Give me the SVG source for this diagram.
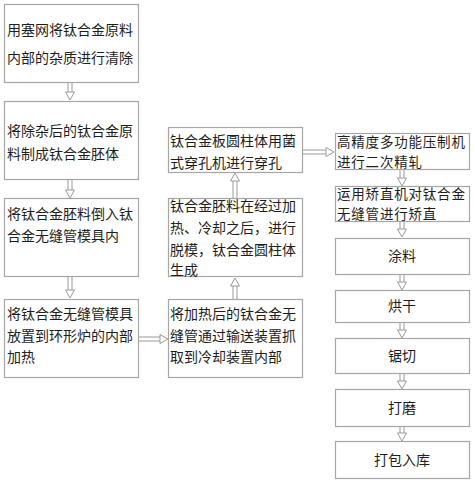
<svg xmlns="http://www.w3.org/2000/svg" width="474" height="481" viewBox="0 0 474 481">
<style>
.box{fill:#fff;stroke:#a6a6a6;stroke-width:1.2}
.t{font-family:"Noto Sans CJK SC","Noto Sans",sans-serif;font-size:14px;fill:#1e1e1e}
.s{font-size:13.5px;letter-spacing:0.8px}
.c{text-anchor:middle}
.sh{fill:none;stroke:#9a9a9a;stroke-width:1}
.hd{fill:#fff;stroke:#9a9a9a;stroke-width:1}
</style>
<rect width="474" height="481" fill="#fff"/>
<g id="connectors">
<path class="sh" d="M68,82V92M72,82V92"/><polygon class="hd" points="65.5,92 74.5,92 70,100"/>
<path class="sh" d="M68,180V190M72,180V190"/><polygon class="hd" points="65.5,190 74.5,190 70,198"/>
<path class="sh" d="M68,277V290M72,277V290"/><polygon class="hd" points="65.5,290 74.5,290 70,298"/>
<path class="sh" d="M138,337H160M138,341H160"/><polygon class="hd" points="160,334.5 160,343.5 168,339"/>
<path class="sh" d="M233,299V286M237,299V286"/><polygon class="hd" points="230.5,286 239.5,286 235,278"/>
<path class="sh" d="M233,198V181M237,198V181"/><polygon class="hd" points="230.5,181 239.5,181 235,173"/>
<path class="sh" d="M303,150H326M303,154H326"/><polygon class="hd" points="326,147.5 326,156.5 334,152"/>
<path class="sh" d="M400,170V178M404,170V178"/><polygon class="hd" points="397.5,178 406.5,178 402,186"/>
<path class="sh" d="M400,222V229M404,222V229"/><polygon class="hd" points="397.5,229 406.5,229 402,237"/>
<path class="sh" d="M400,275V282M404,275V282"/><polygon class="hd" points="397.5,282 406.5,282 402,290"/>
<path class="sh" d="M400,322V330M404,322V330"/><polygon class="hd" points="397.5,330 406.5,330 402,338"/>
<path class="sh" d="M400,373V381M404,373V381"/><polygon class="hd" points="397.5,381 406.5,381 402,389"/>
<path class="sh" d="M400,426V433M404,426V433"/><polygon class="hd" points="397.5,433 406.5,433 402,441"/>
</g>
<g id="b1"><rect class="box" x="4.5" y="4.5" width="134" height="78"/>
<text class="t" x="7" y="35">用塞网将钛合金原料</text><text class="t" x="7" y="63">内部的杂质进行清除</text></g>
<g id="b2"><rect class="box" x="4.5" y="101.5" width="134" height="78"/>
<text class="t" x="7" y="136">将除杂后的钛合金原</text><text class="t" x="7" y="159">料制成钛合金胚体</text></g>
<g id="b3"><rect class="box" x="4.5" y="198.5" width="134" height="78"/>
<text class="t" x="7" y="219">将钛合金胚料倒入钛</text><text class="t" x="7" y="241">合金无缝管模具内</text></g>
<g id="b4"><rect class="box" x="4.5" y="299.5" width="134" height="78"/>
<text class="t" x="7" y="319">将钛合金无缝管模具</text><text class="t" x="7" y="341">放置到环形炉的内部</text><text class="t" x="7" y="362">加热</text></g>
<g id="m1"><rect class="box" x="168.5" y="299.5" width="134" height="78"/>
<text class="t" x="170" y="319">将加热后的钛合金无</text><text class="t" x="170" y="341">缝管通过输送装置抓</text><text class="t" x="170" y="362">取到冷却装置内部</text></g>
<g id="m2"><rect class="box" x="168.5" y="198.5" width="134" height="78"/>
<text class="t" x="170" y="211">钛合金胚料在经过加</text><text class="t" x="170" y="233">热、冷却之后，进行</text><text class="t" x="170" y="255">脱模，钛合金圆柱体</text><text class="t" x="170" y="275">生成</text></g>
<g id="m3"><rect class="box" x="168.5" y="127.5" width="134" height="45"/>
<text class="t" x="170" y="146">钛合金板圆柱体用菌</text><text class="t" x="170" y="168">式穿孔机进行穿孔</text></g>
<g id="r1"><rect class="box" x="335.5" y="133.5" width="134" height="36"/>
<text class="t s" x="337" y="147">高精度多功能压制机</text><text class="t s" x="337" y="167">进行二次精轧</text></g>
<g id="r2"><rect class="box" x="335.5" y="186.5" width="134" height="35"/>
<text class="t s" x="337" y="199">运用矫直机对钛合金</text><text class="t s" x="337" y="219">无缝管进行矫直</text></g>
<g id="r3"><rect class="box" x="335.5" y="238.5" width="134" height="36"/>
<text class="t c" x="402" y="261">涂料</text></g>
<g id="r4"><rect class="box" x="335.5" y="290.5" width="134" height="32"/>
<text class="t c" x="402" y="311">烘干</text></g>
<g id="r5"><rect class="box" x="335.5" y="338.5" width="134" height="35"/>
<text class="t c" x="402" y="361">锯切</text></g>
<g id="r6"><rect class="box" x="335.5" y="389.5" width="134" height="37"/>
<text class="t c" x="402" y="413">打磨</text></g>
<g id="r7"><rect class="box" x="335.5" y="441.5" width="134" height="37"/>
<text class="t c" x="402" y="465">打包入库</text></g>
</svg>
